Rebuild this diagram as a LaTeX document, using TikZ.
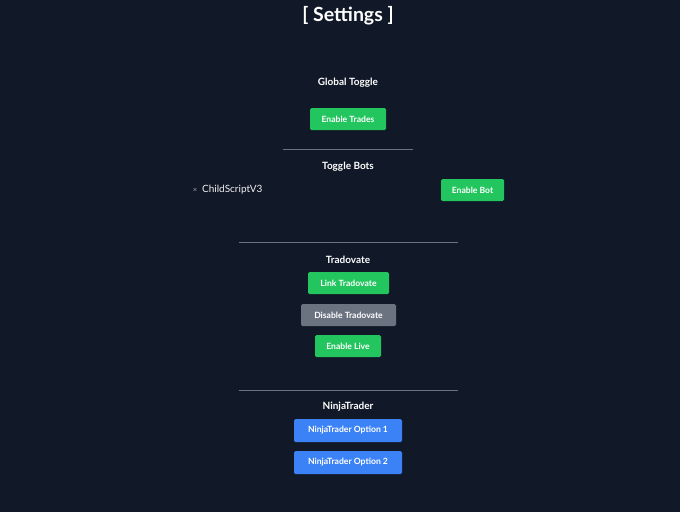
\documentclass[tikz,border=0pt]{standalone}
\usepackage{fontspec}
\setmainfont{Lato}
\definecolor{bgdark}{HTML}{111827}
\definecolor{btngreen}{HTML}{22C55E}
\definecolor{btngray}{HTML}{6B7280}
\definecolor{btnblue}{HTML}{3B82F6}
\definecolor{rulegray}{HTML}{6B7280}
\tikzset{
  head/.style={text=white, font=\bfseries\fontsize{10}{12}\selectfont},
  btn/.style={rounded corners=1.5pt, text=white, minimum height=22pt, inner sep=0pt,
    font=\bfseries\fontsize{8.6}{10}\selectfont},
  sep/.style={draw=rulegray, line width=0.8pt}
}
\begin{document}
\begin{tikzpicture}[x=1pt,y=-1pt]
\fill [bgdark] (0,0) rectangle (680,512);
\useasboundingbox (0,0) rectangle (680,512);

\node [text=white, font=\bfseries\fontsize{19.5}{22}\selectfont] (title) at (348,16) {[ Settings ]};

\node [head] (global) at (348,83) {Global Toggle};
\node [btn, fill=btngreen, minimum width=76pt] (trades) at (348,119) {Enable Trades};

\coordinate (s1a) at (283,149);
\coordinate (s1b) at (413,149);
\draw [sep] (s1a) -- (s1b);

\node [head] (bots) at (348,167) {Toggle Bots};
\node [text=gray!70, font=\fontsize{7.5}{8}\selectfont] (x) at (195,190.5) {×};
\node [anchor=west, text=white!90!gray, font=\fontsize{10}{12}\selectfont, inner sep=0pt] (child) at (202,190) {ChildScriptV3};
\node [btn, fill=btngreen, minimum width=63pt] (enbot) at (472.5,190) {Enable Bot};

\coordinate (s2a) at (239,242);
\coordinate (s2b) at (458,242);
\draw [sep] (s2a) -- (s2b);

\node [head] (trado) at (348,260) {Tradovate};
\node [btn, fill=btngreen, minimum width=81pt] (link) at (348.5,283) {Link Tradovate};
\node [btn, fill=btngray, minimum width=95pt] (disable) at (348.5,315) {Disable Tradovate};
\node [btn, fill=btngreen, minimum width=66pt] (live) at (348,346) {Enable Live};

\coordinate (s3a) at (239,390);
\coordinate (s3b) at (458,390);
\draw [sep] (s3a) -- (s3b);

\node [head] (ninja) at (348,407) {NinjaTrader};
\node [btn, fill=btnblue, minimum width=108pt, minimum height=23pt] (opt1) at (348,430.5) {NinjaTrader Option 1};
\node [btn, fill=btnblue, minimum width=108pt, minimum height=23pt] (opt2) at (348,462.5) {NinjaTrader Option 2};
\end{tikzpicture}
\end{document}
